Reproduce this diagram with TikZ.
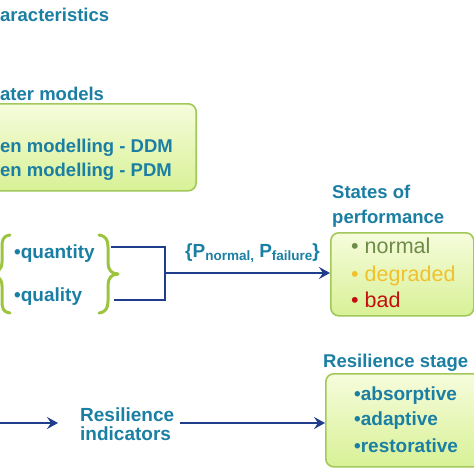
\documentclass[tikz,border=0pt]{standalone}
\usepackage{fontspec}
\setmainfont{Liberation Sans}
\usetikzlibrary{arrows.meta}
\definecolor{tealtxt}{HTML}{1B7EA3}
\definecolor{navy}{HTML}{203D8C}
\definecolor{boxborder}{HTML}{A2C85A}
\definecolor{boxtop}{HTML}{F6FCDC}
\definecolor{boxbot}{HTML}{D8F196}
\definecolor{bracegreen}{HTML}{9CC43E}
\definecolor{normalc}{HTML}{6E8C48}
\definecolor{degradedc}{HTML}{F0C12C}
\definecolor{badc}{HTML}{C21010}
\tikzset{
  txt/.style={inner sep=0pt, text=tealtxt, font=\fontsize{19}{19}\selectfont\bfseries},
  ttl/.style={inner sep=0pt, text=tealtxt, font=\fontsize{18.5}{21}\selectfont\bfseries},
  itm/.style={inner sep=0pt, font=\fontsize{21.5}{22}\selectfont},
  sitm/.style={inner sep=0pt, text=tealtxt, font=\fontsize{19}{21}\selectfont\bfseries},
  box/.style={draw=boxborder, line width=1.6pt, rounded corners=8pt, top color=boxtop, bottom color=boxbot, inner sep=0pt},
  arr/.style={draw=navy, line width=2.8pt, -{Stealth[length=11pt,width=12pt,inset=4pt]}},
  ln/.style={draw=navy, line width=2.8pt},
  brace/.style={draw=bracegreen, line width=3pt, line cap=round}
}
\begin{document}
\begin{tikzpicture}[x=1pt,y=-1pt]
\useasboundingbox (0,0) rectangle (474,474);
\clip (0,0) rectangle (474,474);

% titles top left
\node[ttl, anchor=base west] (t1) at (0,21) {aracteristics};
\node[ttl, anchor=base west] (t2) at (0,100) {ater models};

% model box
\node[box, anchor=north east, minimum width=240pt, minimum height=87pt] (mbox) at (197,103) {};
\node[ttl, anchor=base west] (ddm) at (0,152) {en modelling - DDM};
\node[ttl, anchor=base west] (pdm) at (0,176) {en modelling - PDM};

% braces
\draw[brace] (10,235) .. controls (3,236) and (2,240) .. (2,247) -- (2,262) .. controls (2,270) and (-4,274) .. (-10,274);
\draw[brace] (10,313) .. controls (3,312) and (2,308) .. (2,301) -- (2,286) .. controls (2,278) and (-4,274) .. (-10,274);
\draw[brace] (99,235) .. controls (106,236) and (108,240) .. (108,247) -- (108,263) .. controls (108,270) and (112,274) .. (118,274);
\draw[brace] (99,313) .. controls (106,312) and (108,308) .. (108,301) -- (108,285) .. controls (108,278) and (112,274) .. (118,274);

\node[txt, anchor=base west] (qty) at (14,258) {•quantity};
\node[txt, anchor=base west] (qly) at (14,301) {•quality};

% fork lines
\coordinate (qa) at (111,247);
\coordinate (qb) at (165,247);
\coordinate (la) at (114,300);
\coordinate (lb) at (165,300);
\coordinate (fork) at (165,273);
\draw[ln] (qa) -- (qb) -- (lb) -- (la);

% states box
\node[ttl, anchor=base west] (st1) at (332,198) {States of};
\node[ttl, anchor=base west] (st2) at (332,223) {performance};
\node[box, anchor=north west, minimum width=143pt, minimum height=83pt] (states) at (330,232) {};
\node[itm, anchor=base west, text=normalc] (nrm) at (351,253) {•\ normal};
\node[itm, anchor=base west, text=degradedc] (deg) at (351,281) {•\ degraded};
\node[itm, anchor=base west, text=badc] (bad) at (351,307) {•\ bad};

\draw[arr] (fork) -- (fork -| states.west);
\node[txt, anchor=base west] (plabel) at (185,257) {\{P\raisebox{-3.5pt}{\fontsize{13.5}{14}\selectfont normal,} P\raisebox{-3.5pt}{\fontsize{13.5}{14}\selectfont failure}\}};

% bottom row
\coordinate (lin) at (-5,423);
\coordinate (ltip) at (58,423);
\node[txt, anchor=west, align=left] (ind) at (80,424) {Resilience\\indicators};
\draw[arr] (lin) -- (ltip);
\node[ttl, anchor=base west] (rst) at (323,367) {Resilience stage};
\node[box, anchor=north west, minimum width=160pt, minimum height=93pt] (stage) at (325,373) {};
\node[sitm, anchor=base west] (abs) at (354,400) {•absorptive};
\node[sitm, anchor=base west] (ada) at (354,425) {•adaptive};
\node[sitm, anchor=base west] (res) at (354,452) {•restorative};
\coordinate (istart) at (180,423);
\draw[arr] (istart) -- (stage.west |- istart);
\end{tikzpicture}
\end{document}
